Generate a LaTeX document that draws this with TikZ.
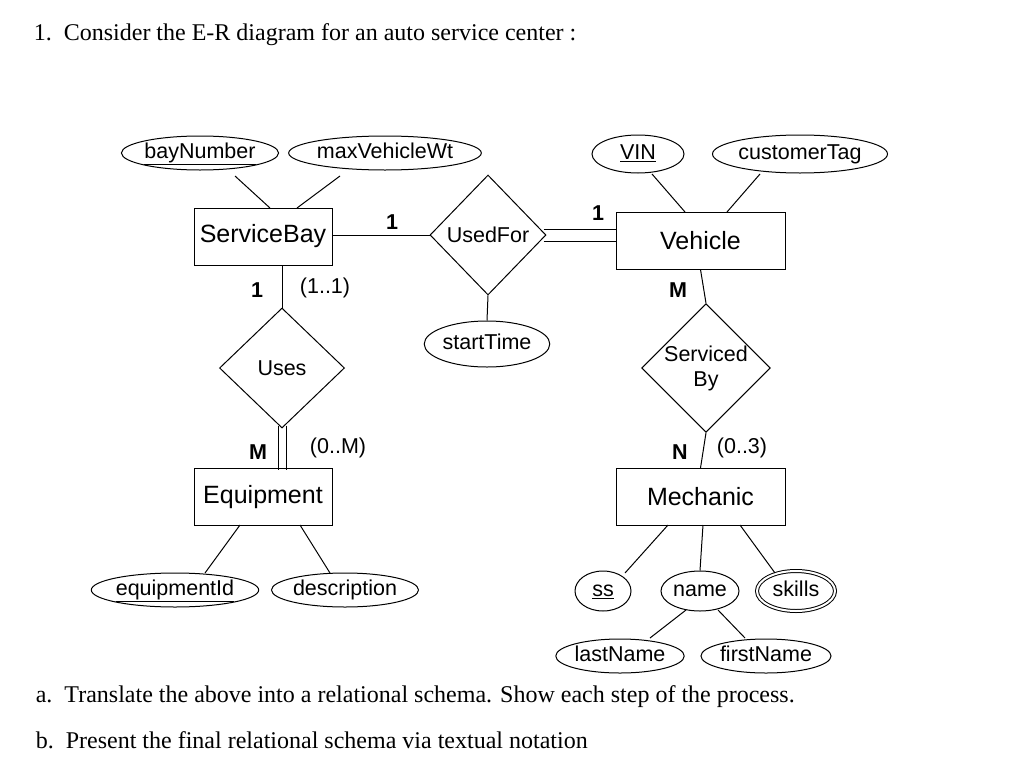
\documentclass[tikz,border=0pt]{standalone}
\usepackage{fontspec}
\setmainfont{Liberation Serif}
\newfontfamily\dsans{Liberation Sans}
\usetikzlibrary{shapes.geometric}
\begin{document}
\begin{tikzpicture}[x=1pt,y=-1pt,line width=1pt,
 ent/.style={draw,rectangle,minimum width=138pt,minimum height=57pt,font=\dsans\fontsize{25}{28}\selectfont},
 ent2/.style={ent,minimum width=169pt},
 rel/.style={draw,diamond,aspect=1,inner sep=0pt,font=\dsans\fontsize{21.5}{25}\selectfont,align=center},
 att/.style={draw,ellipse,inner sep=0pt,minimum height=34pt,text height=15pt,text depth=4pt,font=\dsans\fontsize{21.5}{25}\selectfont},
 card/.style={font=\dsans\bfseries\fontsize{21.5}{25}\selectfont},
 rng/.style={font=\dsans\fontsize{21.5}{25}\selectfont},
 txt/.style={anchor=west,font=\fontsize{24}{28}\selectfont}]
\useasboundingbox (0,0) rectangle (1026,774);
\node[txt] (t1) at (30,35) {1.\ \ Consider the E-R diagram for an auto service center :};
\node[txt] (ta) at (32,697) {a.\ \ Translate the above into a relational schema. Show each step of the process.};
\node[txt] (tb) at (32,740) {b.\ \ Present the final relational schema via textual notation};
\node[ent] (sb) at (263,236.5) {ServiceBay};
\node[ent2] (veh) at (700.5,240.5) {Vehicle};
\node[ent] (eq) at (263,497) {Equipment};
\node[ent2] (mech) at (700.5,497) {Mechanic};
\node[rel,minimum width=116pt,minimum height=120pt] (uf) at (488,235) {UsedFor};
\node[rel,minimum width=125pt,minimum height=120pt] (uses) at (282,368) {Uses};
\node[rel,minimum width=117pt,minimum height=120pt] (sby) at (706,368) {Serviced\\By};
\node[att,minimum width=118pt,minimum height=46pt] (st) at (487,344) {startTime};
\node[att,minimum width=132pt] (bn) at (200,153) {\underline{bayNumber}};
\node[att,minimum width=170pt] (mw) at (385,153) {maxVehicleWt};
\node[att,minimum width=92pt,minimum height=38pt] (vin) at (638,154) {\underline{VIN}};
\node[att,minimum width=175pt,minimum height=38pt] (ct) at (800,154) {customerTag};
\node[att,minimum width=150pt] (eid) at (175,590) {\underline{equipmentId}};
\node[att,minimum width=125pt] (desc) at (345,590) {description};
\node[att,minimum width=56pt,minimum height=40pt] (ss) at (603,591) {\underline{ss}};
\node[att,minimum width=78pt,minimum height=40pt] (nm) at (700,591) {name};
\node[att,minimum width=78pt,minimum height=40pt,double,double distance=2pt] (sk) at (796,591) {skills};
\node[att,minimum width=106pt] (ln) at (620,656) {lastName};
\node[att,minimum width=120pt] (fn) at (766,656) {firstName};
\draw (235,176) -- (270,208);
\draw (340,176) -- (297,208);
\draw (652,174) -- (685,212);
\draw (760,174) -- (727,212);
\draw (240,525) -- (205,573);
\draw (300,525) -- (330,573);
\draw (668,525) -- (625,573);
\draw (703,525) -- (nm.north);
\draw (740,525) -- (775,573);
\draw (686,610) -- (650,638);
\draw (718,610) -- (745,638);
\draw (sb.east |- uf.west) -- (uf.west);
\draw (uf.south) -- (st.north);
\draw (sb.south -| uses.north) -- (uses.north);
\draw (veh.south) -- (sby.north);
\draw (sby.south) -- (mech.north);
\draw ([yshift=-6pt]uf.east) ++(-3,0) coordinate (a1) -- ++(73,0) coordinate (a2);
\draw ([yshift=6pt]uf.east) ++(-3,0) coordinate (b1) -- ++(73,0) coordinate (b2);
\draw ([xshift=-4pt]uses.south) ++(0,-3) -- ++(0,44);
\draw ([xshift=4pt]uses.south) ++(0,-3) -- ++(0,44);
\node[card] (c1) at (392,222) {1};
\node[card] (c2) at (598,213) {1};
\node[card] (c3) at (257,290) {1};
\node[rng] (r1) at (325,288) {(1..1)};
\node[card] (c4) at (258,452) {M};
\node[rng] (r2) at (338,448) {(0..M)};
\node[card] (c5) at (678,290) {M};
\node[card] (c6) at (680,452) {N};
\node[rng] (r3) at (742,448) {(0..3)};
\end{tikzpicture}
\end{document}
